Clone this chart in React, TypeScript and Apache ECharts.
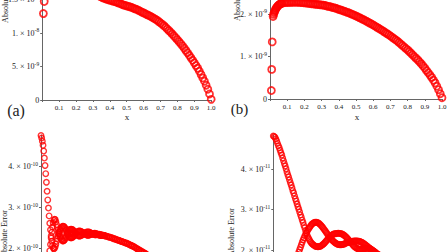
import React, { useEffect, useRef } from "react";
import * as echarts from "echarts";

// values: panel (a),(b) in units of 1e-9; (c) in 1e-10; (d) in 1e-11
const panelA: [number, number][] = [
  [0.007, 12.9], [0.012, 14.7], [0.017, 16.0], [0.025, 16.8], [0.035, 17.2], [0.05, 17.4], [0.07, 17.5],
  [0.1, 17.5], [0.13, 17.4], [0.16, 17.3], [0.19, 17.1], [0.22, 16.9], [0.25, 16.7], [0.28, 16.3],
  [0.3, 16.05], [0.32, 15.8], [0.34, 15.5], [0.35, 15.38], [0.36, 15.25], [0.37, 15.15], [0.38, 15.05],
  [0.39, 14.97], [0.4, 14.9], [0.41, 14.82], [0.42, 14.75], [0.43, 14.68], [0.44, 14.6], [0.45, 14.5],
  [0.46, 14.4], [0.47, 14.3], [0.48, 14.2], [0.49, 14.12], [0.5, 14.05], [0.51, 13.97], [0.52, 13.9],
  [0.53, 13.8], [0.54, 13.7], [0.55, 13.6], [0.56, 13.5], [0.57, 13.38], [0.58, 13.25], [0.59, 13.12],
  [0.6, 13.0], [0.61, 12.88], [0.62, 12.75], [0.63, 12.62], [0.64, 12.5], [0.65, 12.35], [0.66, 12.2],
  [0.67, 12.05], [0.68, 11.9], [0.69, 11.7], [0.7, 11.5], [0.71, 11.3], [0.72, 11.1], [0.73, 10.85],
  [0.74, 10.6], [0.75, 10.35], [0.76, 10.1], [0.77, 9.83], [0.78, 9.55], [0.79, 9.28], [0.8, 9.0],
  [0.81, 8.7], [0.82, 8.4], [0.83, 8.08], [0.84, 7.75], [0.85, 7.4], [0.86, 7.05], [0.87, 6.68],
  [0.88, 6.3], [0.89, 5.93], [0.9, 5.55], [0.91, 5.15], [0.92, 4.75], [0.93, 4.3], [0.94, 3.8],
  [0.95, 3.3], [0.96, 2.8], [0.97, 2.2], [0.98, 1.6], [0.99, 0.9], [1.0, 0.1],
];

const panelB: [number, number][] = [
  [0.008, 0.2], [0.01, 0.7], [0.013, 1.35], [0.018, 1.95], [0.021, 2.0], [0.024, 2.04], [0.027, 2.07],
  [0.03, 2.1], [0.034, 2.13], [0.038, 2.16], [0.042, 2.18], [0.046, 2.2], [0.05, 2.22], [0.055, 2.235],
  [0.06, 2.25], [0.065, 2.26], [0.07, 2.265], [0.08, 2.275], [0.09, 2.28], [0.1, 2.28], [0.11, 2.283],
  [0.12, 2.285], [0.13, 2.287], [0.14, 2.288], [0.15, 2.288], [0.16, 2.287], [0.17, 2.285], [0.18, 2.282],
  [0.19, 2.278], [0.2, 2.273], [0.21, 2.268], [0.22, 2.263], [0.23, 2.258], [0.24, 2.253], [0.25, 2.248],
  [0.26, 2.243], [0.27, 2.238], [0.28, 2.233], [0.29, 2.229], [0.3, 2.225], [0.31, 2.218], [0.32, 2.21],
  [0.33, 2.2], [0.34, 2.19], [0.35, 2.18], [0.36, 2.17], [0.37, 2.16], [0.38, 2.148], [0.39, 2.135],
  [0.4, 2.12], [0.41, 2.106], [0.42, 2.092], [0.43, 2.078], [0.44, 2.063], [0.45, 2.048], [0.46, 2.032],
  [0.47, 2.015], [0.48, 1.998], [0.49, 1.98], [0.5, 1.962], [0.51, 1.943], [0.52, 1.923], [0.53, 1.903],
  [0.54, 1.882], [0.55, 1.861], [0.56, 1.84], [0.57, 1.818], [0.58, 1.795], [0.59, 1.772], [0.6, 1.75],
  [0.61, 1.725], [0.62, 1.7], [0.63, 1.675], [0.64, 1.65], [0.65, 1.625], [0.66, 1.6], [0.67, 1.573],
  [0.68, 1.546], [0.69, 1.518], [0.7, 1.49], [0.71, 1.46], [0.72, 1.43], [0.73, 1.4], [0.74, 1.37],
  [0.75, 1.335], [0.76, 1.3], [0.77, 1.265], [0.78, 1.23], [0.79, 1.195], [0.8, 1.16], [0.81, 1.12],
  [0.82, 1.08], [0.83, 1.04], [0.84, 1.0], [0.85, 0.96], [0.86, 0.92], [0.87, 0.875], [0.88, 0.83],
  [0.89, 0.78], [0.9, 0.73], [0.91, 0.675], [0.92, 0.62], [0.93, 0.565], [0.94, 0.51], [0.95, 0.445],
  [0.96, 0.38], [0.97, 0.3], [0.98, 0.22], [0.99, 0.125], [1.0, 0.03],
];

const panelC1: [number, number][] = [
  [0, 4.76], [0.004, 4.7], [0.008, 4.62], [0.012, 4.52], [0.016, 4.38], [0.02, 4.21], [0.024, 4.03],
  [0.028, 3.83], [0.032, 3.62], [0.036, 3.4], [0.04, 3.19], [0.044, 2.99], [0.048, 2.8], [0.052, 2.62],
  [0.056, 2.46], [0.06, 2.31], [0.064, 2.18], [0.068, 2.08], [0.072, 2.02], [0.076, 2.0], [0.08, 2.01],
  [0.084, 2.05], [0.088, 2.11], [0.092, 2.18], [0.096, 2.25], [0.1, 2.31], [0.104, 2.36], [0.108, 2.4],
  [0.112, 2.44], [0.116, 2.48], [0.12, 2.51], [0.124, 2.53], [0.128, 2.55], [0.132, 2.55], [0.136, 2.54],
  [0.14, 2.52], [0.144, 2.49], [0.148, 2.45], [0.152, 2.41], [0.156, 2.37], [0.16, 2.33], [0.164, 2.3],
  [0.168, 2.28], [0.172, 2.27], [0.176, 2.265], [0.18, 2.265], [0.184, 2.27], [0.188, 2.28], [0.192, 2.3],
  [0.196, 2.32], [0.2, 2.34], [0.205, 2.37], [0.21, 2.395], [0.215, 2.415], [0.22, 2.425], [0.225, 2.43],
  [0.23, 2.43], [0.235, 2.425], [0.24, 2.415], [0.245, 2.4], [0.25, 2.385], [0.255, 2.37], [0.26, 2.355],
  [0.265, 2.345], [0.27, 2.335], [0.275, 2.33], [0.28, 2.33], [0.285, 2.335], [0.29, 2.34], [0.295, 2.35],
  [0.3, 2.36], [0.305, 2.365], [0.31, 2.37], [0.315, 2.375], [0.32, 2.375], [0.325, 2.37], [0.33, 2.36],
  [0.335, 2.35], [0.34, 2.34], [0.345, 2.33], [0.35, 2.325], [0.355, 2.32], [0.36, 2.32], [0.365, 2.32],
  [0.37, 2.32], [0.375, 2.315], [0.38, 2.31], [0.39, 2.3], [0.4, 2.285], [0.41, 2.27], [0.42, 2.26],
  [0.43, 2.245], [0.44, 2.23], [0.45, 2.215], [0.46, 2.2], [0.47, 2.185], [0.48, 2.17], [0.49, 2.155],
  [0.5, 2.14], [0.51, 2.125], [0.52, 2.105], [0.53, 2.085], [0.54, 2.065], [0.55, 2.045], [0.56, 2.02],
  [0.57, 1.995], [0.58, 1.97], [0.59, 1.945], [0.6, 1.92], [0.61, 1.895], [0.62, 1.87],
];

const panelC2: [number, number][] = [
  [0.044, 1.66], [0.048, 1.8], [0.052, 1.95], [0.056, 2.1], [0.06, 2.26], [0.064, 2.4], [0.068, 2.53],
  [0.072, 2.63], [0.076, 2.69], [0.08, 2.72], [0.084, 2.71], [0.088, 2.66], [0.092, 2.59], [0.096, 2.52],
  [0.1, 2.45], [0.104, 2.4], [0.108, 2.36], [0.112, 2.31], [0.116, 2.27], [0.12, 2.23], [0.124, 2.21],
  [0.128, 2.19], [0.132, 2.19], [0.136, 2.2], [0.14, 2.22], [0.144, 2.26], [0.148, 2.3], [0.152, 2.35],
  [0.156, 2.39], [0.16, 2.42], [0.164, 2.44], [0.168, 2.46], [0.172, 2.47], [0.176, 2.475], [0.18, 2.475],
  [0.184, 2.47], [0.188, 2.46], [0.192, 2.44], [0.196, 2.42], [0.2, 2.395], [0.205, 2.37], [0.21, 2.345],
  [0.215, 2.325], [0.22, 2.315], [0.225, 2.31], [0.23, 2.31], [0.235, 2.315], [0.24, 2.325], [0.245, 2.34],
  [0.25, 2.355], [0.255, 2.37], [0.26, 2.385], [0.265, 2.395], [0.27, 2.405], [0.275, 2.41], [0.28, 2.41],
  [0.285, 2.405], [0.29, 2.395], [0.295, 2.385], [0.3, 2.37], [0.305, 2.36], [0.31, 2.35], [0.315, 2.345],
  [0.32, 2.34], [0.325, 2.34], [0.33, 2.345], [0.335, 2.35], [0.34, 2.35], [0.345, 2.35], [0.35, 2.345],
  [0.355, 2.34], [0.36, 2.335], [0.365, 2.33], [0.37, 2.325], [0.375, 2.32], [0.38, 2.315], [0.39, 2.305],
  [0.4, 2.29], [0.41, 2.28], [0.42, 2.265], [0.43, 2.25], [0.44, 2.235], [0.45, 2.22], [0.46, 2.205],
  [0.47, 2.19], [0.48, 2.175], [0.49, 2.16], [0.5, 2.145], [0.51, 2.13], [0.52, 2.11], [0.53, 2.09],
  [0.54, 2.07], [0.55, 2.05], [0.56, 2.025], [0.57, 2.0], [0.58, 1.975], [0.59, 1.95], [0.6, 1.925],
  [0.61, 1.9], [0.62, 1.875],
];

const panelD1: [number, number][] = [
  [0, 4.82], [0.005, 4.81], [0.01, 4.79], [0.015, 4.75], [0.02, 4.7], [0.025, 4.64], [0.03, 4.58],
  [0.035, 4.53], [0.04, 4.47], [0.045, 4.41], [0.05, 4.35], [0.055, 4.28], [0.06, 4.21], [0.065, 4.14],
  [0.07, 4.08], [0.075, 4.01], [0.08, 3.94], [0.085, 3.87], [0.09, 3.81], [0.095, 3.74], [0.1, 3.67],
  [0.105, 3.61], [0.11, 3.54], [0.115, 3.47], [0.12, 3.41], [0.125, 3.34], [0.13, 3.27], [0.135, 3.21],
  [0.14, 3.14], [0.145, 3.07], [0.15, 3.01], [0.155, 2.94], [0.16, 2.87], [0.165, 2.81], [0.17, 2.74],
  [0.175, 2.68], [0.18, 2.61], [0.185, 2.55], [0.19, 2.48], [0.195, 2.42], [0.2, 2.36], [0.205, 2.31],
  [0.21, 2.27], [0.215, 2.23], [0.22, 2.2], [0.225, 2.17], [0.23, 2.15], [0.235, 2.13], [0.24, 2.115],
  [0.245, 2.1], [0.25, 2.09], [0.255, 2.085], [0.26, 2.08], [0.265, 2.08], [0.27, 2.085], [0.275, 2.09],
  [0.28, 2.1], [0.285, 2.115], [0.29, 2.13], [0.295, 2.15], [0.3, 2.17], [0.305, 2.19], [0.31, 2.215],
  [0.315, 2.24], [0.32, 2.265], [0.325, 2.29], [0.33, 2.315], [0.335, 2.335], [0.34, 2.355], [0.345, 2.37],
  [0.35, 2.385], [0.355, 2.395], [0.36, 2.4], [0.365, 2.405], [0.37, 2.41], [0.375, 2.412], [0.38, 2.413],
  [0.385, 2.413], [0.39, 2.412], [0.395, 2.41], [0.4, 2.405], [0.405, 2.395], [0.41, 2.385], [0.415, 2.37],
  [0.42, 2.355], [0.425, 2.335], [0.43, 2.315], [0.435, 2.29], [0.44, 2.265], [0.445, 2.24], [0.45, 2.215],
  [0.455, 2.19], [0.46, 2.165], [0.465, 2.14], [0.47, 2.115], [0.475, 2.095], [0.48, 2.075], [0.485, 2.06],
  [0.49, 2.045], [0.495, 2.035], [0.5, 2.025], [0.505, 2.02], [0.51, 2.015], [0.515, 2.015], [0.52, 2.015],
  [0.525, 2.02], [0.53, 2.025], [0.535, 2.03], [0.54, 2.035], [0.545, 2.04], [0.55, 2.045], [0.555, 2.045],
  [0.56, 2.045], [0.565, 2.04], [0.57, 2.03], [0.575, 2.02], [0.58, 2.005], [0.585, 1.99], [0.59, 1.975],
  [0.595, 1.96], [0.6, 1.945], [0.61, 1.91], [0.62, 1.88],
];

const panelD2: [number, number][] = [
  [0.12, 1.62], [0.125, 1.67], [0.13, 1.72], [0.135, 1.77], [0.14, 1.83], [0.145, 1.89], [0.15, 1.95],
  [0.155, 2.01], [0.16, 2.07], [0.165, 2.13], [0.17, 2.19], [0.175, 2.25], [0.18, 2.3], [0.185, 2.35],
  [0.19, 2.39], [0.195, 2.43], [0.2, 2.47], [0.205, 2.51], [0.21, 2.54], [0.215, 2.57], [0.22, 2.6],
  [0.225, 2.63], [0.23, 2.65], [0.235, 2.665], [0.24, 2.68], [0.245, 2.69], [0.25, 2.69], [0.255, 2.69],
  [0.26, 2.68], [0.265, 2.67], [0.27, 2.655], [0.275, 2.635], [0.28, 2.615], [0.285, 2.59], [0.29, 2.565],
  [0.295, 2.535], [0.3, 2.505], [0.305, 2.475], [0.31, 2.445], [0.315, 2.415], [0.32, 2.385], [0.325, 2.355],
  [0.33, 2.325], [0.335, 2.3], [0.34, 2.275], [0.345, 2.25], [0.35, 2.23], [0.355, 2.21], [0.36, 2.19],
  [0.365, 2.175], [0.37, 2.16], [0.375, 2.15], [0.38, 2.14], [0.385, 2.135], [0.39, 2.13], [0.395, 2.13],
  [0.4, 2.13], [0.405, 2.135], [0.41, 2.14], [0.415, 2.145], [0.42, 2.155], [0.425, 2.165], [0.43, 2.175],
  [0.435, 2.185], [0.44, 2.19], [0.445, 2.195], [0.45, 2.2], [0.455, 2.205], [0.46, 2.21], [0.465, 2.215],
  [0.47, 2.22], [0.475, 2.222], [0.48, 2.225], [0.485, 2.225], [0.49, 2.225], [0.495, 2.222], [0.5, 2.22],
  [0.505, 2.215], [0.51, 2.21], [0.515, 2.2], [0.52, 2.19], [0.525, 2.18], [0.53, 2.165], [0.535, 2.15],
  [0.54, 2.135], [0.545, 2.12], [0.55, 2.1], [0.555, 2.085], [0.56, 2.065], [0.565, 2.05], [0.57, 2.03],
  [0.575, 2.015], [0.58, 2.0], [0.585, 1.985], [0.59, 1.97], [0.595, 1.955], [0.6, 1.94], [0.61, 1.91],
  [0.62, 1.88],
];

const xTickLabels = ["0.1", "0.2", "0.3", "0.4", "0.5", "0.6", "0.7", "0.8", "0.9", "1.0"];
// [mantissa, exponent] per tick, starting at 0
const yTicksA: [string, string][] = [["0", ""], ["5. × 10", "-9"], ["1. × 10", "-8"], ["1.5 × 10", "-8"], ["2. × 10", "-8"], ["2.5 × 10", "-8"], ["3. × 10", "-8"]];
const yTicksB: [string, string][] = [["0", ""], ["1. × 10", "-9"], ["2. × 10", "-9"], ["3. × 10", "-9"], ["4. × 10", "-9"]];
const yTicksC: [string, string][] = [["0", ""], ["1. × 10", "-10"], ["2. × 10", "-10"], ["3. × 10", "-10"], ["4. × 10", "-10"]];
const yTicksD: [string, string][] = [["0", ""], ["1. × 10", "-11"], ["2. × 10", "-11"], ["3. × 10", "-11"], ["4. × 10", "-11"]];

const FONT = "'Liberation Serif', 'Times New Roman', serif";
const TEXT = "#222";
const AXIS = "#666";

export default function App() {
  const ref = useRef<HTMLDivElement>(null);
  useEffect(() => {
    if (!ref.current) return;
    const chart = echarts.init(ref.current, undefined, { renderer: "svg" });

    const grids = [
      { left: 42.2, top: -101, width: 169, height: 201 },
      { left: 270, top: -70.2, width: 172, height: 169.2 },
      { left: 41, top: 135.1, width: 169, height: 195.6 },
      { left: 273.3, top: 135.3, width: 170, height: 195.5 },
    ];
    const yConf = [
      { max: 30, interval: 5, ticks: yTicksA },
      { max: 4, interval: 1, ticks: yTicksB },
      { max: 4.77, interval: 1, ticks: yTicksC },
      { max: 4.84, interval: 1, ticks: yTicksD },
    ];
    const seriesData = [[panelA], [panelB], [panelC1, panelC2], [panelD1, panelD2]];

    const xAxis = grids.map((_, i) => ({
      type: "value",
      gridIndex: i,
      min: 0,
      max: 1,
      interval: 0.1,
      axisLine: { show: true, onZero: false, lineStyle: { color: AXIS, width: 1 } },
      axisTick: { show: true, length: 2, lineStyle: { color: AXIS } },
      splitLine: { show: false },
      axisLabel: {
        fontFamily: FONT,
        fontSize: 7,
        color: TEXT,
        margin: 4,
        formatter: (v: number) => {
          const k = Math.round(v * 10);
          return k === 0 ? "" : xTickLabels[k - 1];
        },
      },
    }));

    const yAxis = grids.map((_, i) => ({
      type: "value",
      gridIndex: i,
      min: 0,
      max: yConf[i].max,
      interval: yConf[i].interval,
      axisLine: { show: true, onZero: false, lineStyle: { color: AXIS, width: 1 } },
      axisTick: { show: true, length: 2, lineStyle: { color: AXIS } },
      splitLine: { show: false },
      axisLabel: {
        showMaxLabel: false,
        margin: 3,
        formatter: (v: number) => {
          const t = yConf[i].ticks[Math.round(v / yConf[i].interval)];
          if (!t) return "";
          return t[1] ? `{m|${t[0]}}{e|${t[1]}}` : `{m|${t[0]}}`;
        },
        rich: {
          m: { fontFamily: FONT, fontSize: 8, color: TEXT, lineHeight: 12 },
          e: { fontFamily: FONT, fontSize: 5.5, color: TEXT, lineHeight: 6, verticalAlign: "top" },
        },
      },
    }));

    const series: any[] = [];
    seriesData.forEach((list, i) => {
      list.forEach((d) => {
        series.push({
          type: "scatter",
          xAxisIndex: i,
          yAxisIndex: i,
          data: d,
          symbol: "circle",
          symbolSize: i < 2 ? 7 : 5.5,
          itemStyle: { color: "rgba(0,0,0,0)", borderColor: "#ff0000", borderWidth: i < 2 ? 1.8 : 1.4 },
          silent: true,
        });
      });
    });

    const txt = (text: string, x: number, y: number, size: number, rot = 0) => ({
      type: "text",
      x,
      y,
      rotation: rot,
      style: { text, fontFamily: FONT, fontSize: size, fill: TEXT, align: "center", verticalAlign: "middle" },
    });

    chart.setOption({
      animation: false,
      backgroundColor: "#fff",
      grid: grids.map((g) => ({ ...g, show: false, containLabel: false, outerBoundsMode: "none" })),
      xAxis,
      yAxis,
      series,
      graphic: [
        txt("Absolute Error", 5, -1, 8, Math.PI / 2),
        txt("Absolute Error", 237, -3, 8, Math.PI / 2),
        txt("Absolute Error", 4, 234, 8, Math.PI / 2),
        txt("Absolute Error", 231.5, 232, 8, Math.PI / 2),
        txt("x", 127, 117, 9),
        txt("x", 357, 117, 9),
        txt("(a)", 16, 110, 16),
        txt("(b)", 239.5, 109, 15),
      ],
    });
    return () => chart.dispose();
  }, []);

  return (
    <div
      ref={ref}
      style={{ position: "fixed", left: 0, top: 0, width: 448, height: 252, background: "#fff" }}
    />
  );
}
